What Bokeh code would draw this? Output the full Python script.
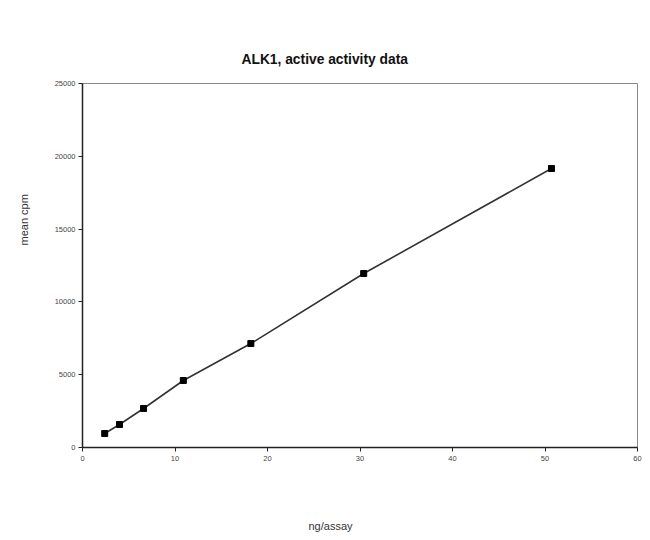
from bokeh.plotting import figure
from bokeh.models import Range1d, FixedTicker, LinearAxis, Title
from bokeh.embed import file_html
from bokeh.resources import INLINE

ng_assay = [2.4, 4.0, 6.6, 10.9, 18.2, 30.4, 50.7]
mean_cpm = [960, 1580, 2680, 4600, 7140, 11950, 19160]
x_ticks = [0, 10, 20, 30, 40, 50, 60]
y_ticks = [0, 5000, 10000, 15000, 20000, 25000]

p = figure(width=642, height=532, output_backend="svg", toolbar_location=None,
           x_range=Range1d(0, 60), y_range=Range1d(0, 25000),
           min_border_left=82, min_border_right=5, min_border_top=83, min_border_bottom=85)
p.title.text = "ALK1, active activity data"
p.title.align = "left"
p.title.offset = 159
p.title.text_font = "Liberation Sans"
p.title.text_font_size = "13.8px"
p.title.text_font_style = "bold"
p.title.text_color = "#111111"
p.title.standoff = 34

p.xgrid.visible = False
p.ygrid.visible = False
p.outline_line_color = "#888888"
p.outline_line_width = 1
p.background_fill_color = "white"
p.border_fill_color = "white"

for ax in (p.xaxis, p.yaxis):
    ax.axis_line_color = "#222222"
    ax.axis_line_width = 1.5
    ax.major_tick_line_color = "#222222"
    ax.major_tick_out = 4
    ax.major_tick_in = 0
    ax.minor_tick_line_color = None
    ax.major_label_text_font = "Liberation Sans"
    ax.major_label_text_font_size = "7.5px"
    ax.major_label_text_color = "#444444"
p.xaxis.ticker = FixedTicker(ticks=x_ticks)
p.yaxis.ticker = FixedTicker(ticks=y_ticks)
p.xaxis.major_label_standoff = 4
p.yaxis.major_label_standoff = 3


def spacer(size):
    # blank band (white tick on white border) that pushes the axis title outward
    return LinearAxis(ticker=FixedTicker(ticks=[0]), major_label_overrides={0: ""},
                      axis_line_color=None, major_tick_line_color="white",
                      minor_tick_line_color=None, major_tick_out=size, major_tick_in=0,
                      major_label_standoff=0, major_label_text_color=None)


def label_title(text, offset):
    return Title(text=text, align="left", offset=offset, standoff=0,
                 text_font="Liberation Sans", text_font_size="11px",
                 text_font_style="normal", text_color="#333333")


p.add_layout(spacer(54), "below")
p.add_layout(label_title("ng/assay", 226), "below")
p.add_layout(spacer(22), "left")
p.add_layout(label_title("mean cpm", 202), "left")

p.line(ng_assay, mean_cpm, line_color="#333333", line_width=1.6)
p.scatter(ng_assay, mean_cpm, marker="square", size=6, fill_color="black", line_color="black")

open("out.html", "w").write(file_html(p, INLINE))
